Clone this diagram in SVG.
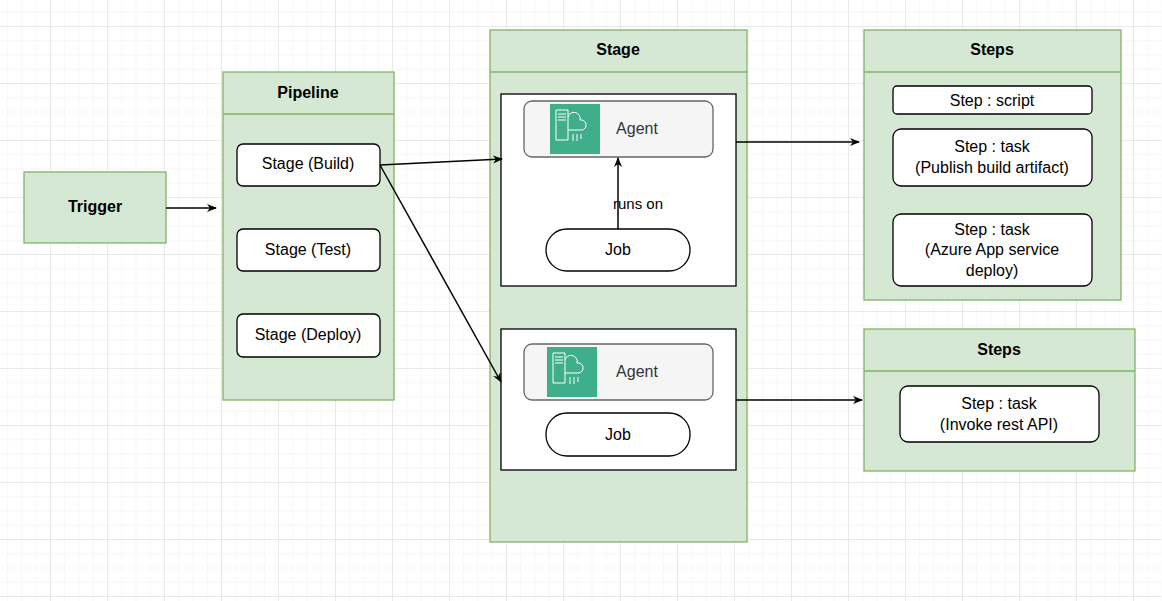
<svg xmlns="http://www.w3.org/2000/svg" width="1162" height="601" viewBox="0 0 1162 601">
<defs>
<pattern id="minor" x="50" y="26" width="14.25" height="14.25" patternUnits="userSpaceOnUse"><path d="M0 0H14.25M0 0V14.25" fill="none" stroke="#f0f0f0" stroke-width="1"/></pattern>
<pattern id="major" x="50" y="26" width="57" height="57" patternUnits="userSpaceOnUse"><path d="M0 0H57M0 0V57" fill="none" stroke="#dcdcdc" stroke-width="1"/></pattern>
<marker id="arr" markerWidth="10" markerHeight="10" refX="9" refY="5" orient="auto" markerUnits="userSpaceOnUse"><path d="M0 1L10 5L0 9L3 5Z" fill="#000"/></marker>
</defs>
<style>
text{font-family:"Liberation Sans",Arial,sans-serif;font-size:16px;fill:#000;text-anchor:middle}
.b{font-weight:bold}
.g{fill:#d5e8d4;stroke:#82b366;stroke-width:1.3}
.w{fill:#fff;stroke:#000;stroke-width:1.3}
.ag{fill:#f5f5f5;stroke:#666;stroke-width:1.3}
.c{fill:none;stroke:#000;stroke-width:1.5}
.ic{fill:none;stroke:#fff;stroke-width:1}
</style>
<rect width="1162" height="601" fill="#fff"/>
<rect width="1162" height="601" fill="url(#minor)"/>
<rect width="1162" height="601" fill="url(#major)"/>

<g id="trigger"><rect class="g" x="24" y="172" width="142" height="71"/><text class="b" x="95" y="212">Trigger</text></g>

<g id="pipeline"><rect class="g" x="223" y="72" width="171" height="328"/><line x1="223" y1="114" x2="394" y2="114" stroke="#82b366" stroke-width="1.3"/><text class="b" x="308" y="98">Pipeline</text>
<rect class="w" x="237" y="144" width="143" height="42" rx="6"/><text x="308" y="169">Stage (Build)</text>
<rect class="w" x="237" y="229" width="143" height="42" rx="6"/><text x="308" y="255">Stage (Test)</text>
<rect class="w" x="237" y="314" width="143" height="43" rx="6"/><text x="308" y="340">Stage (Deploy)</text></g>

<g id="stage"><rect class="g" x="490" y="30" width="257" height="512"/><line x1="490" y1="72" x2="747" y2="72" stroke="#82b366" stroke-width="1.3"/><text class="b" x="618" y="55">Stage</text></g>

<g id="job1"><rect class="w" x="501" y="94" width="235" height="192"/>
<rect class="ag" x="524" y="101" width="189" height="56" rx="8"/>
<rect x="550" y="104" width="50" height="50" fill="#3fae8a"/>
<path class="ic" d="M556 110h12v30h-12zM558 114h8M558 117h8M558 120h8M568 117a6 6 0 0 1 12 3a5 5 0 0 1 2 10h-14M573 134v7M577 134v7M581 134v5"/>
<text x="637" y="134" fill="#333" style="fill:#333">Agent</text>
<rect class="w" x="546" y="229" width="144" height="42" rx="21"/><text x="618" y="255">Job</text>
<text x="638" y="209" style="font-size:15px">runs on</text></g>

<g id="job2"><rect class="w" x="501" y="329" width="235" height="141"/>
<rect class="ag" x="524" y="344" width="189" height="56" rx="8"/>
<rect x="547" y="347" width="50" height="50" fill="#3fae8a"/>
<path class="ic" d="M553 353h12v30h-12zM555 357h8M555 360h8M555 363h8M565 360a6 6 0 0 1 12 3a5 5 0 0 1 2 10h-14M570 377v7M574 377v7M578 377v5"/>
<text x="637" y="377" style="fill:#333">Agent</text>
<rect class="w" x="546" y="413" width="144" height="43" rx="21"/><text x="618" y="440">Job</text></g>

<g id="steps1"><rect class="g" x="864" y="30" width="257" height="270"/><line x1="864" y1="72" x2="1121" y2="72" stroke="#82b366" stroke-width="1.3"/><text class="b" x="992" y="55">Steps</text>
<rect class="w" x="893" y="86" width="199" height="28" rx="4"/><text x="992" y="106">Step : script</text>
<rect class="w" x="893" y="129" width="199" height="57" rx="8"/><text x="992" y="152">Step : task</text><text x="992" y="173">(Publish build artifact)</text>
<rect class="w" x="893" y="214" width="199" height="72" rx="8"/><text x="992" y="235">Step : task</text><text x="992" y="255">(Azure App service</text><text x="992" y="276">deploy)</text></g>

<g id="steps2"><rect class="g" x="864" y="329" width="271" height="142"/><line x1="864" y1="371" x2="1135" y2="371" stroke="#82b366" stroke-width="1.3"/><text class="b" x="999" y="355">Steps</text>
<rect class="w" x="900" y="386" width="199" height="56" rx="8"/><text x="999" y="409">Step : task</text><text x="999" y="430">(Invoke rest API)</text></g>

<g id="connectors">
<line class="c" x1="166" y1="208" x2="216" y2="208" marker-end="url(#arr)"/>
<line class="c" x1="380" y1="165" x2="502" y2="159" marker-end="url(#arr)"/>
<line class="c" x1="380" y1="165" x2="501" y2="382" marker-end="url(#arr)"/>
<line class="c" x1="618" y1="229" x2="618" y2="158" marker-end="url(#arr)"/>
<line class="c" x1="736" y1="142" x2="859" y2="142" marker-end="url(#arr)"/>
<line class="c" x1="736" y1="400" x2="862" y2="400" marker-end="url(#arr)"/>
</g>
</svg>
